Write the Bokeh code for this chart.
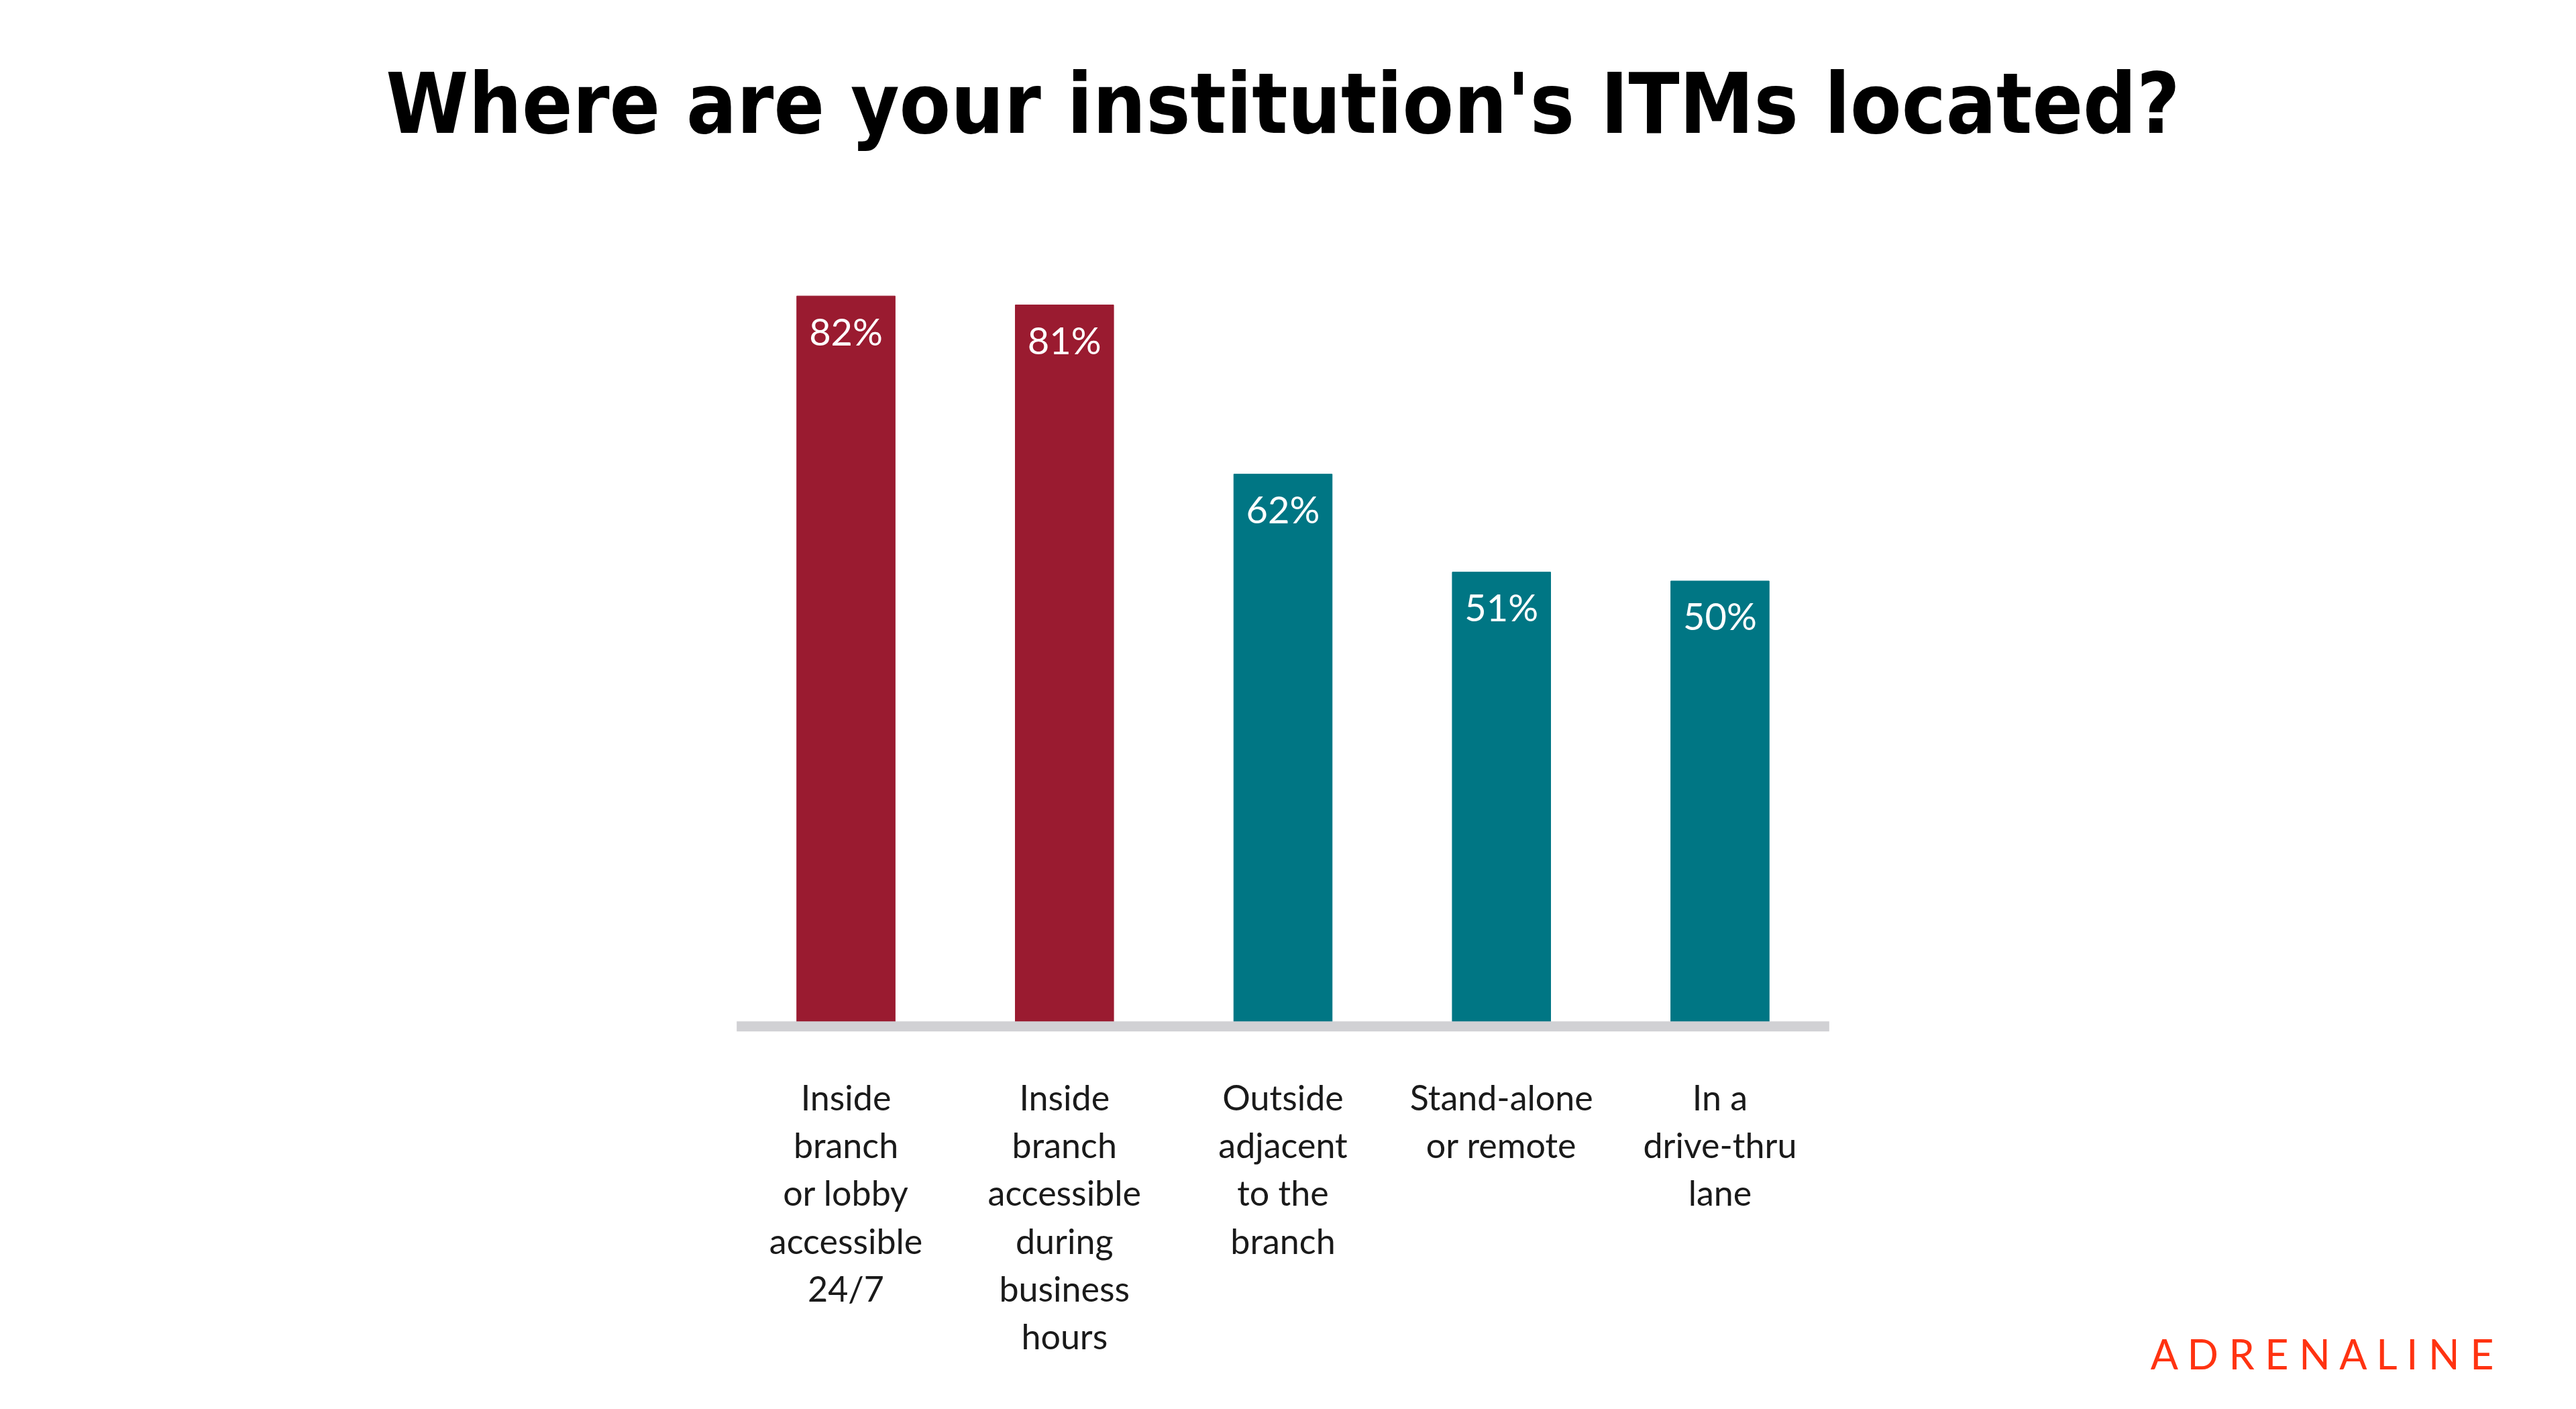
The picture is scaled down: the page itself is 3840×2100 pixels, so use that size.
from bokeh.plotting import figure
from bokeh.models import ColumnDataSource, Label, FactorRange, Range1d
from bokeh.core.properties import value
from bokeh.embed import file_html
from bokeh.resources import INLINE

# ---- data ----
categories = [
    "Inside\nbranch\nor lobby\naccessible\n24/7",
    "Inside\nbranch\naccessible\nduring\nbusiness\nhours",
    "Outside\nadjacent\nto the\nbranch",
    "Stand-alone\nor remote",
    "In a\ndrive-thru\nlane",
]
values = [82, 81, 62, 51, 50]
value_labels = ["82%", "81%", "62%", "51%", "50%"]
colors = ["#9a1b30", "#9a1b30", "#007684", "#007684", "#007684"]
title_text = "Where are your institution's ITMs located?"
logo_text = "A D R E N A L I N E"

W, H = 3824, 2084
source = ColumnDataSource(dict(cat=categories, val=values, lab=value_labels,
                               col=colors, base=[0] * len(values)))

p = figure(
    width=W, height=H,
    x_range=FactorRange(*categories, range_padding=1.348),
    y_range=Range1d(-41.8, 115.2),
    output_backend="svg", toolbar_location=None,
    x_axis_location=None, y_axis_location=None,
    min_border=0,
)
p.outline_line_color = None
p.background_fill_color = "white"
p.border_fill_color = "white"
p.grid.visible = False

p.vbar(x="cat", top="val", bottom=0, width=0.45, color="col", source=source)

# grey baseline spanning the category range
base_src = ColumnDataSource(dict(x0=[(categories[0], -0.5)], x1=[(categories[-1], 0.5)],
                                 y0=[0], y1=[0]))
p.segment(x0="x0", y0="y0", x1="x1", y1="y1", source=base_src,
          line_color="#d1d1d4", line_width=15, line_cap="butt")

# value labels inside bars
p.text(x="cat", y="val", text="lab", source=source,
       text_color="white", text_align="center", text_baseline="middle",
       y_offset=52, text_font=value("Lato"), text_font_size="56px")

# category labels under the baseline
p.text(x="cat", y="base", text="cat", source=source,
       text_color="#1a1a1a", text_align="center", text_baseline="top",
       y_offset=74, text_font=value("Lato"), text_font_size="52px",
       text_line_height=1.15)

p.add_layout(Label(x=1912, y=1930, x_units="screen", y_units="screen",
                   text=title_text, text_align="center", text_baseline="middle",
                   text_font="DejaVu Sans Condensed", text_font_style="bold",
                   text_font_size="124px", text_color="black"))

p.add_layout(Label(x=3465, y=67, x_units="screen", y_units="screen",
                   text=logo_text, text_align="center", text_baseline="middle",
                   text_font="Lato", text_font_size="61px", text_color="#ff3311"))

open("out.html", "w").write(file_html(p, INLINE))
